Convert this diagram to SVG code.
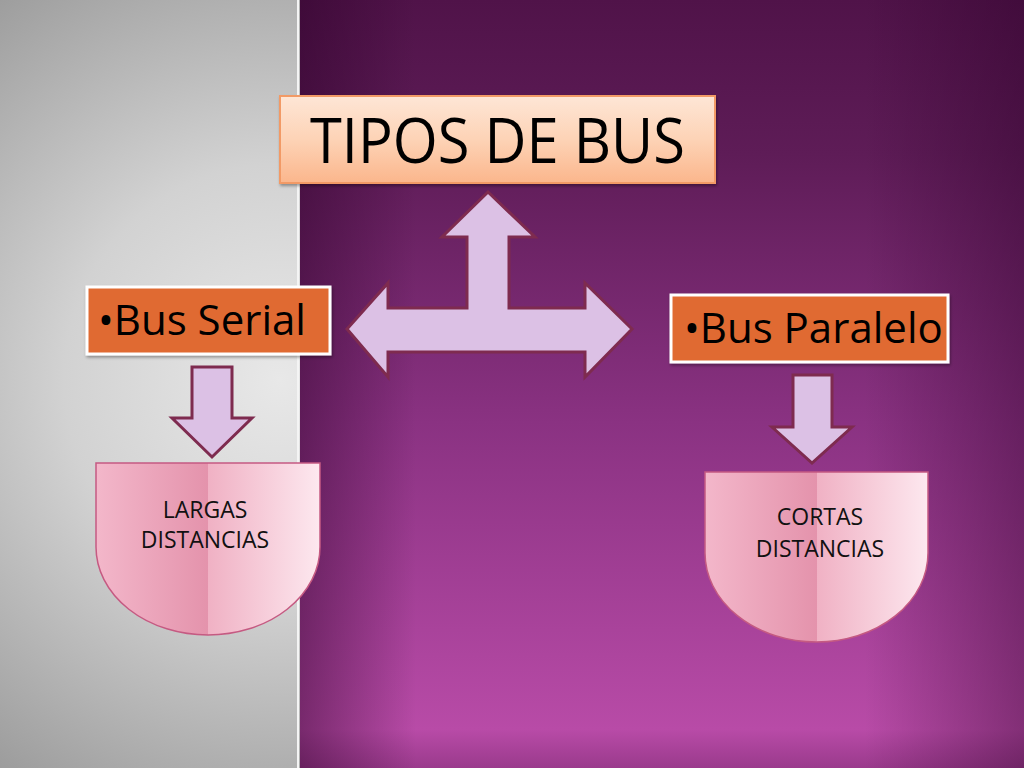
<svg xmlns="http://www.w3.org/2000/svg" width="1024" height="768" viewBox="0 0 1024 768">
<defs>
<radialGradient id="gray" cx="280" cy="380" r="480" gradientUnits="userSpaceOnUse">
<stop offset="0" stop-color="#e8e8e8"/>
<stop offset="0.45" stop-color="#d2d2d2"/>
<stop offset="1" stop-color="#9c9c9c"/>
</radialGradient>
<linearGradient id="purpV" x1="0" y1="0" x2="0" y2="768" gradientUnits="userSpaceOnUse">
<stop offset="0" stop-color="#501349"/>
<stop offset="0.2" stop-color="#5e1c57"/>
<stop offset="0.55" stop-color="#8a3282"/>
<stop offset="0.95" stop-color="#b84ba7"/>
<stop offset="1" stop-color="#9a3a8c"/>
</linearGradient>
<linearGradient id="purpH" x1="300" y1="0" x2="1024" y2="0" gradientUnits="userSpaceOnUse">
<stop offset="0" stop-color="#2a0026" stop-opacity="0.45"/>
<stop offset="0.16" stop-color="#2a0026" stop-opacity="0"/>
<stop offset="0.78" stop-color="#2a0026" stop-opacity="0"/>
<stop offset="1" stop-color="#2a0026" stop-opacity="0.38"/>
</linearGradient>
<linearGradient id="titleFill" x1="0" y1="0" x2="0" y2="1">
<stop offset="0" stop-color="#fee6d6"/>
<stop offset="0.5" stop-color="#fdd3b6"/>
<stop offset="1" stop-color="#fbb68c"/>
</linearGradient>
<linearGradient id="shieldFill" x1="0" y1="0" x2="1" y2="0">
<stop offset="0" stop-color="#f3b7ca"/>
<stop offset="0.5" stop-color="#e493ac"/>
<stop offset="0.5" stop-color="#f0b1c4"/>
<stop offset="1" stop-color="#fde8ef"/>
</linearGradient>
<filter id="shadow" x="-10%" y="-10%" width="125%" height="130%">
<feDropShadow dx="1" dy="2" stdDeviation="1.5" flood-color="#000" flood-opacity="0.35"/>
</filter>
</defs>
<style>
.arrow{fill:#dcc1e5;stroke:#7e2b4f;stroke-width:3;stroke-linejoin:miter}
.bus{fill:#e06a32;stroke:#ffffff;stroke-width:3}
.busText{font-family:"Open Sans","DejaVu Sans",sans-serif;font-size:42px;fill:#000}
.shield{fill:url(#shieldFill);stroke:#c55a82;stroke-width:1.5}
.small{font-family:"Open Sans","DejaVu Sans",sans-serif;font-size:23px;fill:#111;text-anchor:middle}
</style>
<g id="background">
<rect x="0" y="0" width="300" height="768" fill="url(#gray)"/>
<rect x="300" y="0" width="724" height="768" fill="url(#purpV)"/>
<rect x="300" y="0" width="724" height="768" fill="url(#purpH)"/>
<rect x="297" y="0" width="2" height="768" fill="#f4f4f4"/>
</g>
<g id="connectors">
<path class="arrow" d="M488,192 L535,237 L509,237 L509,308 L585,308 L585,283 L632,329 L585,377 L585,352 L388,352 L388,377 L347,329 L388,283 L388,308 L467,308 L467,237 L442,237 Z"/>
<path class="arrow" d="M192,367 H232 V418 H252 L212,457 L172,418 H192 Z"/>
<path class="arrow" d="M793,375 H832 V427 H852 L812,463 L772,427 H793 Z"/>
</g>
<g id="title">
<rect x="280" y="96" width="435" height="87" fill="url(#titleFill)" stroke="#f29a66" stroke-width="2" filter="url(#shadow)"/>
<text x="310" y="163" font-family="'Open Sans','DejaVu Sans',sans-serif" font-size="63" fill="#000" textLength="375" lengthAdjust="spacingAndGlyphs">TIPOS DE BUS</text>
</g>
<g id="bus-serial">
<rect class="bus" x="87" y="287" width="243" height="67" filter="url(#shadow)"/>
<text class="busText" x="98" y="335">•Bus Serial</text>
</g>
<g id="bus-paralelo">
<rect class="bus" x="671" y="295" width="277" height="67" filter="url(#shadow)"/>
<text class="busText" x="684" y="343">•Bus Paralelo</text>
</g>
<g id="largas">
<path class="shield" d="M96,463 H320 V547 A112,88 0 0 1 96,547 Z"/>
<text class="small" x="205" y="518">LARGAS</text>
<text class="small" x="205" y="548">DISTANCIAS</text>
</g>
<g id="cortas">
<path class="shield" d="M705,472 H928 V553 A111.5,89 0 0 1 705,553 Z"/>
<text class="small" x="820" y="525">CORTAS</text>
<text class="small" x="820" y="557">DISTANCIAS</text>
</g>
</svg>
